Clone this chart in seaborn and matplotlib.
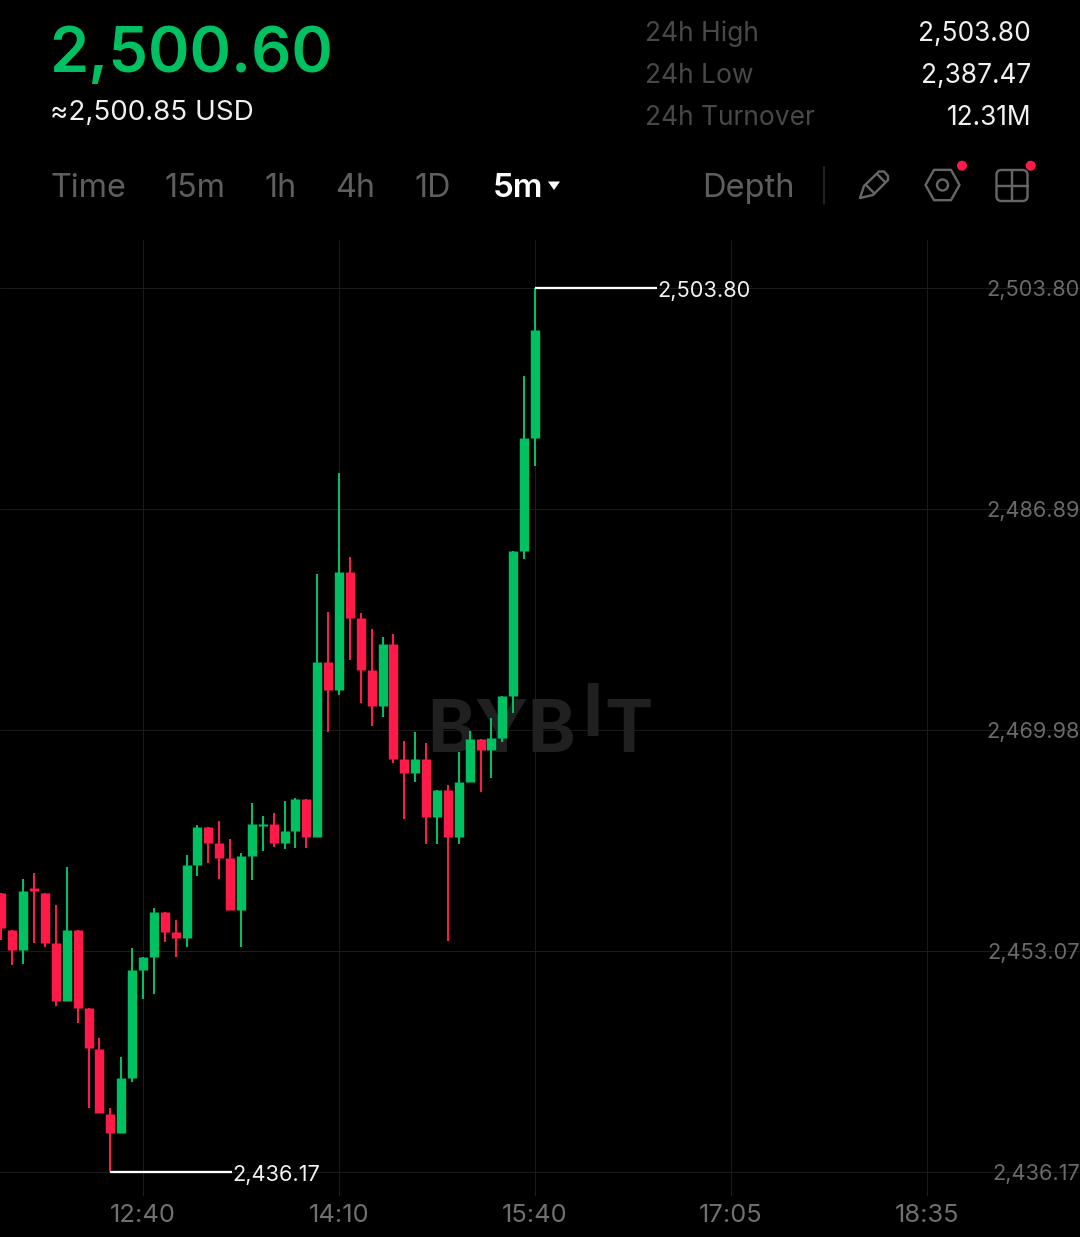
import matplotlib
matplotlib.use("Agg")
import matplotlib.pyplot as plt
from matplotlib.patches import Polygon, Circle, FancyBboxPatch
import numpy as np
import pandas as pd
import seaborn as sns

# ---- data -------------------------------------------------------------
opens = [2457.50, 2454.73, 2453.16, 2457.89, 2457.50, 2453.72, 2449.26, 2454.73, 2448.70, 2445.60,
         2440.60, 2439.18, 2443.37, 2451.63, 2452.63, 2456.05, 2454.54, 2454.11, 2459.67, 2462.58,
         2461.39, 2460.20, 2456.25, 2460.38, 2462.68, 2462.79, 2461.33, 2462.30, 2464.69, 2461.79,
         2475.23, 2473.09, 2482.12, 2478.60, 2474.60, 2471.82, 2476.59, 2467.76, 2466.71, 2467.76,
         2463.35, 2465.39, 2461.84, 2466.05, 2469.32, 2468.47, 2469.37, 2472.63, 2483.73, 2492.36]
closes = [2454.83, 2453.16, 2457.68, 2457.70, 2453.72, 2449.26, 2454.73, 2448.70, 2445.64, 2440.66,
          2439.18, 2443.37, 2451.63, 2452.63, 2456.07, 2454.54, 2454.11, 2459.67, 2462.60, 2461.39,
          2460.23, 2456.23, 2460.38, 2462.81, 2462.79, 2461.33, 2462.30, 2464.69, 2461.79, 2475.23,
          2473.09, 2482.12, 2478.60, 2474.60, 2471.82, 2476.59, 2467.76, 2466.71, 2467.76, 2463.35,
          2465.39, 2461.84, 2466.05, 2469.32, 2468.47, 2469.37, 2472.63, 2483.73, 2492.36, 2500.60]
highs = [2457.50, 2454.73, 2458.58, 2459.04, 2457.50, 2456.59, 2459.54, 2454.73, 2448.70, 2446.43,
         2441.05, 2445.00, 2453.34, 2452.63, 2456.36, 2456.05, 2455.46, 2460.46, 2462.76, 2462.58,
         2463.06, 2461.64, 2460.57, 2464.44, 2463.42, 2463.63, 2464.57, 2464.78, 2464.69, 2481.95,
         2479.06, 2489.70, 2483.27, 2478.98, 2477.71, 2477.15, 2477.38, 2469.14, 2469.88, 2469.03,
         2465.39, 2465.80, 2468.32, 2469.95, 2469.32, 2470.95, 2472.63, 2483.73, 2497.10, 2503.80]
lows = [2453.93, 2452.02, 2452.07, 2453.68, 2453.37, 2448.88, 2449.26, 2447.60, 2441.09, 2440.66,
        2436.17, 2439.18, 2443.08, 2449.41, 2449.77, 2453.80, 2452.65, 2453.37, 2458.83, 2459.80,
        2458.60, 2456.20, 2453.37, 2458.52, 2460.74, 2461.03, 2460.90, 2460.95, 2460.95, 2461.79,
        2469.83, 2472.66, 2475.36, 2472.10, 2470.29, 2471.02, 2467.46, 2463.17, 2466.05, 2461.30,
        2461.30, 2453.88, 2461.30, 2466.05, 2465.24, 2466.35, 2469.11, 2471.33, 2483.12, 2490.21]
first_candle_minutes = 11 * 60 + 35
candle_minutes = 5
price_ticks = [2503.80, 2486.89, 2469.98, 2453.07, 2436.17]
price_labels = ["2,503.80", "2,486.89", "2,469.98", "2,453.07", "2,436.17"]
# evenly spaced grid (18 candles apart); the app's labels read 5 minutes short on the last two
time_ticks = [12 * 60 + 40, 14 * 60 + 10, 15 * 60 + 40, 17 * 60 + 10, 18 * 60 + 40]
time_labels = ["12:40", "14:10", "15:40", "17:05", "18:35"]
stat_names = ["24h High", "24h Low", "24h Turnover"]
stat_values = ["2,503.80", "2,387.47", "12.31M"]
intervals = ["Time", "15m", "1h", "4h", "1D"]

# ---- style ------------------------------------------------------------
BG, GREEN, RED = "#000000", "#00C162", "#FF1A4A"
GRID = "#1b1b1b"
sns.set_theme(style="dark", rc={"figure.facecolor": BG, "axes.facecolor": BG,
                                "savefig.facecolor": BG, "axes.edgecolor": BG})
plt.rcParams["font.family"] = ["Inter", "DejaVu Sans"]
W, H = 1080, 1237
fig = plt.figure(figsize=(W / 100, H / 100), dpi=100)
PT = 0.72


def price_scale(px):
    return (1172 - px) * (price_ticks[0] - price_ticks[-1]) / 883.5 + price_ticks[-1]


def time_scale(px):
    return first_candle_minutes + (px - 1.4) / 10.89 * candle_minutes


# overlay in pixel units for the app header
hdr = fig.add_axes([0, 0, 1, 1], zorder=5)
hdr.set_xlim(0, W)
hdr.set_ylim(H, 0)
hdr.axis("off")

# ---- chart ------------------------------------------------------------
ax = fig.add_axes([0, (H - 1196) / H, 1, (1196 - 240) / H])
ax.set_xlim(time_scale(0), time_scale(W))
ax.set_ylim(price_scale(1196), price_scale(240))

n = len(opens)
t = [first_candle_minutes + i * candle_minutes for i in range(n)]
direction = ["up" if c >= o else "down" for o, c in zip(opens, closes)]
wicks = pd.DataFrame({"t": t * 2, "price": highs + lows, "candle": list(range(n)) * 2, "dir": direction * 2})
bodies = pd.DataFrame({"t": t * 2, "price": opens + closes, "candle": list(range(n)) * 2, "dir": direction * 2})
palette = {"up": GREEN, "down": RED}
common = dict(x="t", y="price", units="candle", hue="dir", palette=palette, estimator=None,
              sort=False, legend=False, ax=ax, solid_capstyle="butt")

# watermark under everything
wm = dict(transform=hdr.transData, color="#202020", fontsize=72.5 * PT, fontweight="bold",
          va="baseline", ha="left", zorder=1, clip_on=False)
ax.text(427, 752, "BYB", **wm)
ax.text(582, 735.5, "I", **wm)
ax.text(604, 752, "T", **wm)

sns.lineplot(data=wicks, linewidth=2 * PT, zorder=3, **common)
sns.lineplot(data=bodies, linewidth=9.4 * PT, zorder=4, **common)

ax.set_xlabel("")
ax.set_ylabel("")
ax.set_xticks(time_ticks)
ax.set_xticklabels(time_labels)
ax.set_yticks(price_ticks)
ax.set_yticklabels(price_labels)
ax.yaxis.tick_right()
ax.grid(True, color=GRID, linewidth=1.0 * PT, zorder=0)
ax.set_axisbelow(True)
ax.tick_params(axis="x", length=0, pad=5.5, labelsize=25.5 * PT, labelcolor="#707070")
ax.tick_params(axis="y", length=0, pad=0, labelsize=21.8 * PT, labelcolor="#6a6a6a")
for lab in ax.get_yticklabels():
    lab.set_ha("right")
    lab.set_y(lab.get_position()[1])
for s in ax.spines.values():
    s.set_visible(False)

# extreme markers
hi, lo = int(np.argmax(highs)), int(np.argmin(lows))
span = 122 / 10.89 * candle_minutes
for i, val, txt in [(hi, highs[hi], stat_values[0]), (lo, lows[lo], price_labels[-1])]:
    ax.hlines(val, t[i], t[i] + span, color="white", linewidth=2.3 * PT, zorder=5)
    ax.annotate(txt, (t[i] + span, val), xytext=(0, -3), textcoords="offset pixels",
                color="#f2f2f2", fontsize=21.8 * PT, va="center", ha="left", zorder=6)

# ---- header -----------------------------------------------------------
hdr.text(49.5, 72, "2,500.60", color=GREEN, fontsize=63 * PT, fontweight="semibold", va="baseline")
hdr.text(49.5, 120, "≈2,500.85 USD", color="#f0f0f0", fontsize=27.8 * PT, va="baseline")
for y, name, val in zip([41, 83, 125], stat_names, stat_values):
    hdr.text(645, y, name, color="#484848", fontsize=26.4 * PT, va="baseline")
    hdr.text(1031, y, val, color="#f0f0f0", fontsize=26.3 * PT, va="baseline", ha="right")
for x, s in zip([50, 164.5, 264.5, 335, 415], intervals):
    hdr.text(x, 197, s, color="#5e5e5e", fontsize=32.3 * PT, va="baseline")
hdr.text(492.5, 197, "5m", color="white", fontsize=33 * PT, fontweight="semibold", va="baseline")
hdr.add_patch(Polygon([(548, 181.5), (560, 181.5), (554, 190)], closed=True, fc="white", ec="none"))
hdr.text(702, 197, "Depth", color="#5e5e5e", fontsize=32.6 * PT, va="baseline")
hdr.plot([824, 824], [167, 204], color="#2e2e2e", lw=1.5 * PT)

icon = dict(fill=False, ec="#666666", lw=2.4 * PT)
# pencil
hdr.add_patch(Polygon([(860, 198), (864, 186), (879, 171.5), (884, 171.5), (888, 176), (888, 180), (873, 195)],
                      closed=True, joinstyle="round", **icon))
hdr.plot([866, 874], [185, 193], color="#666666", lw=2.4 * PT)
hdr.plot([877, 885], [174, 182], color="#666666", lw=2.4 * PT)
# hexagon
ang = np.deg2rad(np.arange(0, 360, 60))
hdr.add_patch(Polygon(np.c_[942.5 + 17 * np.cos(ang), 185 + 17.5 * np.sin(ang)], closed=True, joinstyle="round", **icon))
hdr.add_patch(Circle((942.5, 185), 5.5, **icon))
# grid
hdr.add_patch(FancyBboxPatch((999, 172.5), 26, 26, boxstyle="round,pad=2.5,rounding_size=5", **icon))
hdr.plot([1012, 1012], [170, 201], color="#666666", lw=2.4 * PT)
hdr.plot([996.5, 1027.5], [185.5, 185.5], color="#666666", lw=2.4 * PT)
hdr.add_patch(Circle((962, 165.7), 5, fc=RED, ec="none"))
hdr.add_patch(Circle((1030.7, 165.7), 5, fc=RED, ec="none"))

fig.savefig("out.png", dpi=100, facecolor=BG)
